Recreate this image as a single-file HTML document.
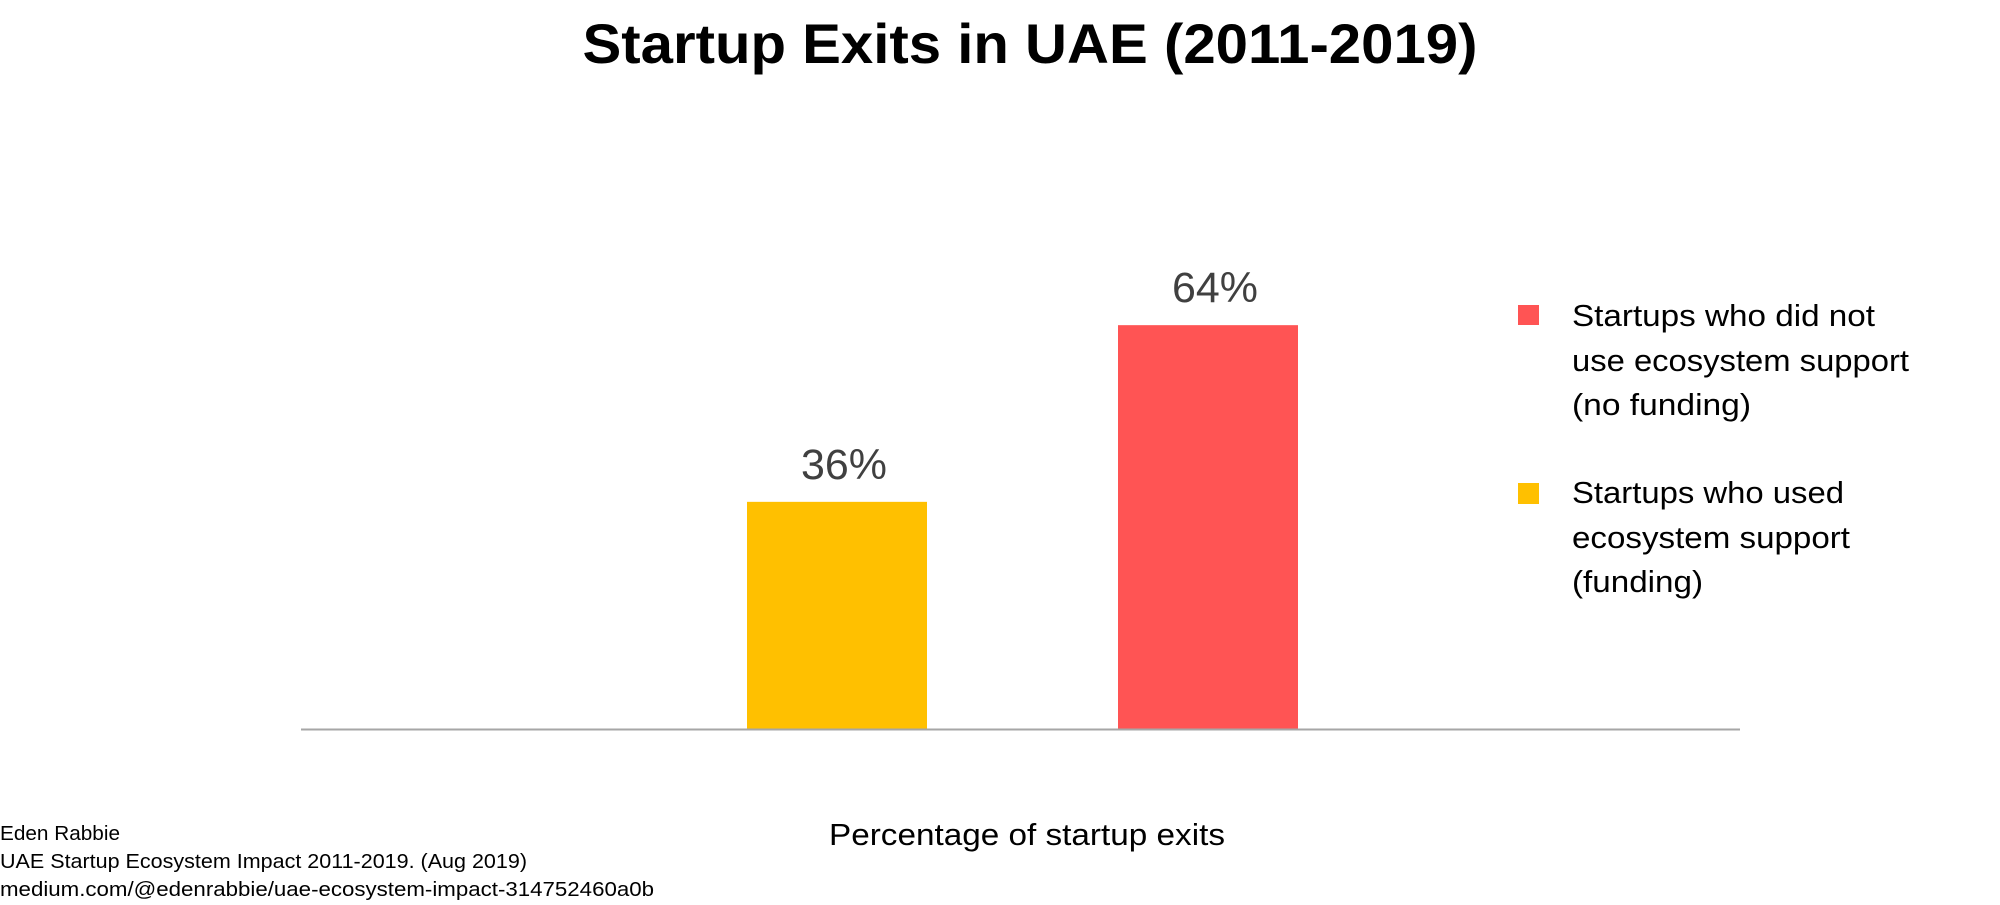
<!DOCTYPE html>
<html><head><meta charset="utf-8"><style>
html,body{margin:0;padding:0;background:#fff;}
svg{display:block;}
text{font-family:"Liberation Sans",sans-serif;}
</style></head><body>
<svg id="chart" width="2000" height="905" viewBox="0 0 2000 905" xmlns="http://www.w3.org/2000/svg">
<text x="1030" y="63" text-anchor="middle" font-size="56" font-weight="bold" fill="#000" textLength="895" lengthAdjust="spacingAndGlyphs">Startup Exits in UAE (2011-2019)</text>
<g id="bars"></g>
<line x1="301" y1="729.5" x2="1740" y2="729.5" stroke="#a6a6a6" stroke-width="2"/>
<text x="1027" y="845" text-anchor="middle" font-size="31" fill="#000" textLength="396" lengthAdjust="spacingAndGlyphs">Percentage of startup exits</text>
<g>
<rect x="1518" y="305" width="21" height="20" fill="#ff5454"/>
<text font-size="31" fill="#000">
<tspan x="1572" y="326" textLength="303" lengthAdjust="spacingAndGlyphs">Startups who did not</tspan>
<tspan x="1572" y="371" textLength="337" lengthAdjust="spacingAndGlyphs">use ecosystem support</tspan>
<tspan x="1572" y="415" textLength="179" lengthAdjust="spacingAndGlyphs">(no funding)</tspan>
</text>
<rect x="1518" y="483" width="21" height="21" fill="#ffc000"/>
<text font-size="31" fill="#000">
<tspan x="1572" y="503" textLength="272" lengthAdjust="spacingAndGlyphs">Startups who used</tspan>
<tspan x="1572" y="548" textLength="278" lengthAdjust="spacingAndGlyphs">ecosystem support</tspan>
<tspan x="1572" y="592" textLength="131" lengthAdjust="spacingAndGlyphs">(funding)</tspan>
</text>
</g>
<text font-size="20" fill="#000">
<tspan x="0" y="840" textLength="120" lengthAdjust="spacingAndGlyphs">Eden Rabbie</tspan>
<tspan x="0" y="868" textLength="527" lengthAdjust="spacingAndGlyphs">UAE Startup Ecosystem Impact 2011-2019. (Aug 2019)</tspan>
<tspan x="0" y="896" textLength="654" lengthAdjust="spacingAndGlyphs">medium.com/@edenrabbie/uae-ecosystem-impact-314752460a0b</tspan>
</text>
</svg>
<script>
const categories = ["Startups who used ecosystem support (funding)", "Startups who did not use ecosystem support (no funding)"];
const values = [36, 64];
const valueLabels = ["36%", "64%"];
const colors = ["#ffc000", "#ff5454"];
const centers = [837, 1208];
const baseY = 729, pxPerUnit = 6.31, barW = 180;
function yScale(v){ return baseY - v * pxPerUnit; }
const g = document.getElementById('bars');
const NS = "http://www.w3.org/2000/svg";
values.forEach((v, i) => {
  const r = document.createElementNS(NS, 'rect');
  
  
  r.setAttribute('x', centers[i] - barW / 2);
  r.setAttribute('y', yScale(v));
  r.setAttribute('width', barW);
  r.setAttribute('height', baseY - yScale(v));
  r.setAttribute('fill', colors[i]);
  g.appendChild(r);
  const t = document.createElementNS(NS, 'text');
  
  
  t.setAttribute('x', centers[i] + 7);
  t.setAttribute('y', yScale(v) - 23);
  t.setAttribute('text-anchor', 'middle');
  t.setAttribute('font-size', '43');
  t.setAttribute('fill', '#404040');
  t.setAttribute('textLength', '86');
  t.setAttribute('lengthAdjust', 'spacingAndGlyphs');
  t.textContent = valueLabels[i];
  g.appendChild(t);
});
</script>
</body></html>
